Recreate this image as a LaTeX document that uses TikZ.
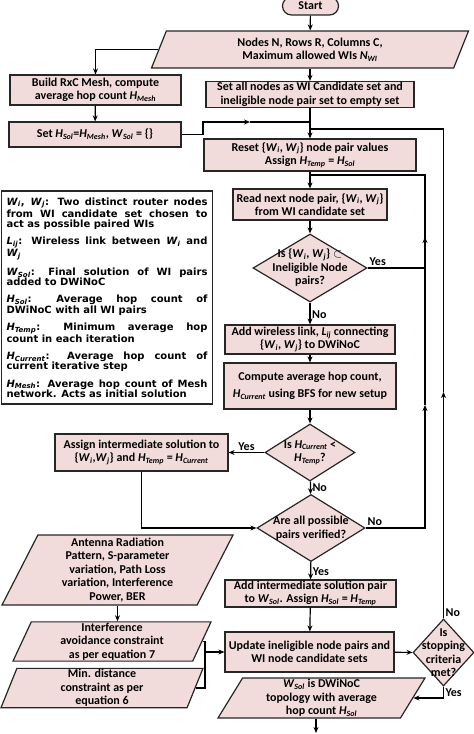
\documentclass[tikz,border=0pt]{standalone}
\usepackage{fontspec}
\setmainfont{Carlito}
\newfontfamily\lgfont{DejaVu Sans}
\usepackage{tikz}
\usetikzlibrary{positioning,arrows.meta,shapes.geometric}
\definecolor{boxpink}{RGB}{242,220,219}
\newcommand{\Hs}[1]{\textit{H}\textsubscript{\textit{#1}}}
\newcommand{\Ws}[1]{\textit{W}\textsubscript{\textit{#1}}}
\newcommand{\Lij}{\textit{L}\textsubscript{\textit{ij}}}
\setlength{\parindent}{0pt}

\begin{document}
\begin{tikzpicture}[x=1pt, y=-1pt,
  font=\bfseries\fontsize{12}{13.5}\selectfont,
  >={Stealth[length=6pt,width=5pt]}, line width=1.2pt,
  b/.style={draw=black!85, fill=boxpink, inner sep=1pt, align=center},
  io/.style={b, trapezium, trapezium stretches body},
  dc/.style={b, diamond, inner sep=-20pt},
  lb/.style={inner sep=1.5pt},
  lgd/.style={draw=black!85, fill=white, text width=201pt, minimum height=213,
    inner xsep=5pt, align=justify, font=\lgfont\bfseries\fontsize{10}{10.3}\selectfont}]
\useasboundingbox (0,0) rectangle (474,734);

% main column
\node[b, rounded corners=9pt, minimum width=56, minimum height=18] (st) at (310.5,6) {Start};
\node[io, trapezium left angle=60, trapezium right angle=120, minimum width=317, minimum height=37] (nd) at (310,49.5)
  {Nodes N, Rows R, Columns C,\\Maximum allowed WIs \textit{N}\textsubscript{\textit{WI}}};
\node[b, minimum width=208, minimum height=25] (sa) at (310,94.5)
  {Set all nodes as WI Candidate set and\\ineligible node pair set to empty set};
\node[b, minimum width=212, minimum height=32] (re) at (310,155)
  {Reset \{\Ws{i}, \Ws{j}\} node pair values\\Assign \Hs{Temp} = \Hs{Sol}};
\node[b, minimum width=154, minimum height=31] (rd) at (310,204.5)
  {Read next node pair, \{\Ws{i}, \Ws{j}\}\\from WI candidate set};
\node[dc, minimum width=114, minimum height=68] (d1) at (310,268)
  {Is \{\Ws{i}, \Ws{j}\} $\subset$\\Ineligible Node\\pairs?};
\node[b, minimum width=170, minimum height=29] (aw) at (310,339.5)
  {Add wireless link, \Lij{} connecting\\\{\Ws{i}, \Ws{j}\} to DWiNoC};
\node[b, minimum width=172, minimum height=46] (cp) at (310,386)
  {Compute average hop count,\\[4pt]\Hs{Current} using BFS for new setup};
\node[dc, minimum width=90, minimum height=57] (d2) at (310,452.5)
  {Is \Hs{Current} <\\\Hs{Temp}?};
\node[dc, minimum width=108, minimum height=67] (d3) at (311,528)
  {Are all possible\\pairs verified?};
\node[b, minimum width=171, minimum height=27] (ai) at (310.5,593.5)
  {Add intermediate solution pair\\to \Ws{Sol}. Assign \Hs{Sol} = \Hs{Temp}};
\node[b, minimum width=169, minimum height=40] (up) at (309.5,652)
  {Update ineligible node pairs and\\WI node candidate sets};
\node[dc, minimum width=61, minimum height=67] (d4) at (443.5,652.5)
  {Is\\stopping\\criteria\\met?};
\node[io, trapezium left angle=58, trapezium right angle=122, minimum width=207, minimum height=40] (ws) at (321.5,698)
  {\Ws{Sol} is DWiNoC\\topology with average\\hop count \Hs{Sol}};

% left column
\node[b, minimum width=171, minimum height=30] (bm) at (95.5,90)
  {Build RxC Mesh, compute\\average hop count \Hs{Mesh}};
\node[b, minimum width=172, minimum height=25] (sh) at (95,134.5)
  {Set \Hs{Sol}=\Hs{Mesh}, \Ws{Sol} = \{\}};
\node[b, minimum width=173, minimum height=37] (as) at (141.5,452.5)
  {Assign intermediate solution to\\\{\Ws{i},\Ws{j}\} and \Hs{Temp} = \Hs{Current}};
\node[io, trapezium left angle=61.5, trapezium right angle=118.5, minimum width=231, minimum height=70] (an) at (117.5,570)
  {Antenna Radiation\\Pattern, S-parameter\\variation, Path Loss\\variation, Interference\\Power, BER};
\node[io, trapezium left angle=65, trapezium right angle=115, minimum width=198, minimum height=39] (ia) at (112,641.5)
  {Interference\\avoidance constraint\\as per equation 7};
\node[io, trapezium left angle=68, trapezium right angle=112, minimum width=202, minimum height=38] (md) at (102,688)
  {Min. distance\\constraint as per\\equation 6};

% legend
\node[lgd] (lg) at (107,297.5) {%
\Ws{i}, \Ws{j}: Two distinct router nodes\linebreak from WI candidate set chosen to\linebreak act as possible paired WIs\par\vspace{7pt}
\Lij: Wireless link between \Ws{i} and\linebreak \Ws{j}\par\vspace{7pt}
\Ws{Sol}: Final solution of WI pairs\linebreak added to DWiNoC\par\vspace{7pt}
\Hs{Sol}: Average hop count of\linebreak DWiNoC with all WI pairs\par\vspace{7pt}
\Hs{Temp}: Minimum average hop\linebreak count in each iteration\par\vspace{7pt}
\Hs{Current}: Average hop count of\linebreak current iterative step\par\vspace{7pt}
\Hs{Mesh}: Average hop count of Mesh\linebreak network. Acts as initial solution};

% connectors
\coordinate (k1) at (203,122);
\coordinate (k2) at (250,122);
\coordinate (k3) at (310,122);
\coordinate (k4) at (310,129);
\coordinate (k5) at (443.5,392);
\coordinate (k6) at (425,405);
\coordinate (k7) at (425,237);
\coordinate (k8) at (310,175);
\coordinate (jn) at (205,652);
\coordinate (en) at (316,733);

\draw[->] (st) -- (nd);
\draw[->] (nd.west) -| (bm.north);
\draw[->] (nd.south -| sa.north) -- (sa.north);
\draw[->] (bm) -- (sh);
\draw[->] (sh.east) -| (k1) -- (k2);
\draw (k2) -- (k3);
\draw[->] (sa) -- (re);
\draw[->] (re) -- (rd);
\draw[->] (rd) -- (d1);
\draw[->] (d1) -- node[lb, right, pos=0.55] (n1) {No} (aw);
\draw[->] (aw) -- (cp);
\draw[->] (cp) -- (d2);
\draw[->] (d2) -- node[lb, above] (y2) {Yes} (as);
\draw[->] (d2) -- node[lb, right] (n2) {No} (d3);
\draw[->] (as.south) |- (d3.west);
\draw[->] (d3) -- node[lb, right, pos=0.55] (y3) {Yes} (ai);
\draw[->] (ai) -- (up);
\draw[->] (up) -- (d4);
\draw[->] (d4.south) node[lb, below right] (y4) {Yes} |- (ws.east);
\draw[->] (ws.south -| en) -- (en);

% loops back
\draw[->] (d3.east) node[lb, above right] (n3) {No} -| (k6);
\draw (k6) -- (k7);
\draw[->] (d1.east) node[lb, above right] (y1) {Yes} -| (k7);
\draw (k7) |- (k8);
\draw[->] (d4.north) node[lb, above right] (n4) {No} -- (k5);
\draw (k5) |- (k4);

% constraints
\draw[->] (an.south) -- (an.south |- ia.north);
\draw (ia.east) -| (jn);
\draw (md.east) -| (jn);
\draw[->] (jn) -- (up.west);
\end{tikzpicture}
\end{document}
